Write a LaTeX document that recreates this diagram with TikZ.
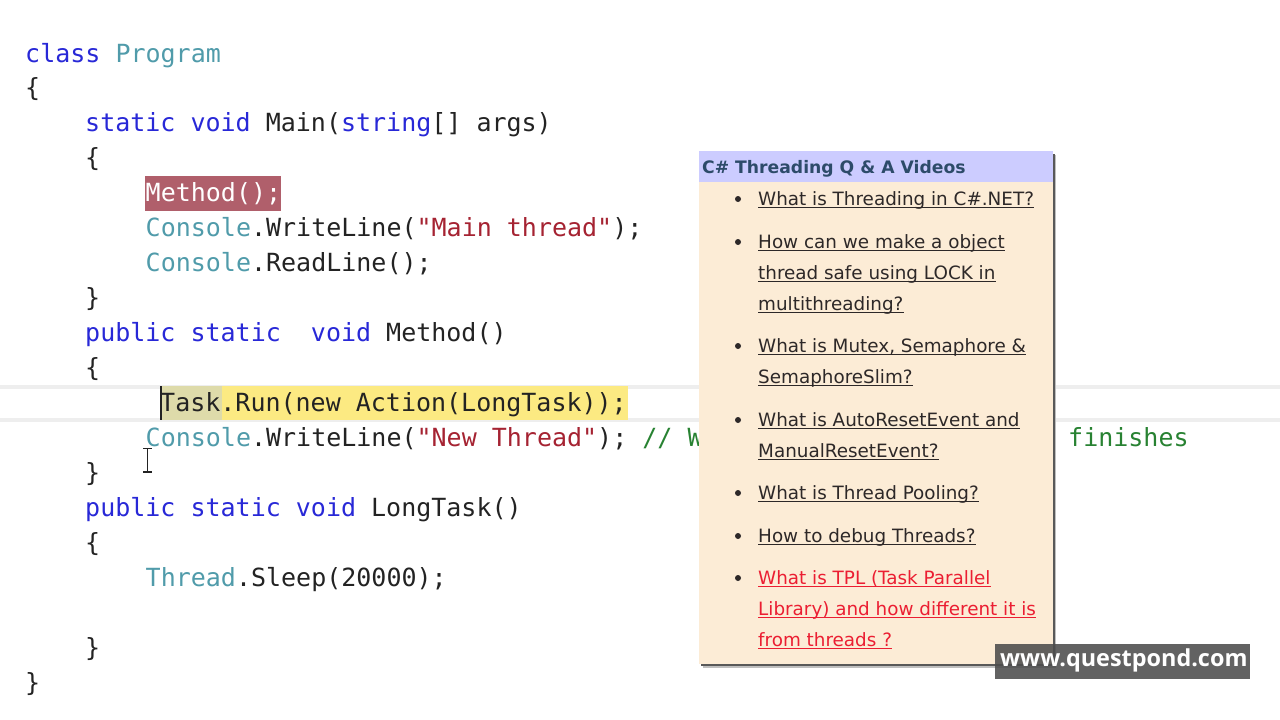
\documentclass[tikz,border=0pt]{standalone}
\usepackage{fontspec}
\usepackage{xcolor}
\setmainfont{DejaVu Sans}
\newfontfamily\codefont{DejaVu Sans Mono}
\newfontfamily\markfont{Open Sans}
\definecolor{KeyBlue}{RGB}{40, 40, 215}
\definecolor{TypeTeal}{RGB}{80, 155, 170}
\definecolor{StrRed}{RGB}{165, 35, 50}
\definecolor{CmtGreen}{RGB}{40, 130, 50}
\definecolor{CodeInk}{RGB}{35, 35, 35}
\definecolor{HeadLilac}{RGB}{204, 204, 255}
\definecolor{HeadInk}{RGB}{45, 75, 105}
\definecolor{PopCream}{RGB}{252, 236, 214}
\definecolor{LinkInk}{RGB}{45, 40, 40}
\definecolor{LinkRed}{RGB}{235, 30, 50}
\definecolor{MarkRose}{RGB}{176, 95, 107}
\definecolor{MarkYellow}{RGB}{252, 234, 130}
\definecolor{MarkOlive}{RGB}{222, 219, 170}
\definecolor{BandGray}{RGB}{238, 238, 238}
\newcommand{\kw}[1]{\textcolor{KeyBlue}{#1}}
\newcommand{\ty}[1]{\textcolor{TypeTeal}{#1}}
\newcommand{\st}[1]{\textcolor{StrRed}{#1}}
\usetikzlibrary{positioning}
\tikzset{
	codeline/.style={anchor=base west, inner sep=0pt, text=CodeInk, font=\codefont\fontsize{25}{25}\selectfont},
	popline/.style={anchor=base west, inner sep=0pt, text=LinkInk, font=\fontsize{18.35}{18.35}\selectfont},
	redline/.style={popline, text=LinkRed},
	popdot/.style={circle, fill=LinkInk, inner sep=0pt, minimum size=6pt}
}
\begin{document}
\begin{tikzpicture}[x=1pt, y=-1pt]
	\useasboundingbox (0,0) rectangle (1280,720);
	\pgfmathsetmacro{\colA}{25}
	\pgfmathsetmacro{\colB}{85}
	\pgfmathsetmacro{\colC}{145.5}
	\pgfmathsetmacro{\pitch}{34.97}
	% Current line marks
	\fill[BandGray] (0,385) rectangle (1280,389);
	\fill[BandGray] (0,418) rectangle (1280,422);
	\fill[MarkYellow] (222,386) rectangle (628,420);
	\fill[MarkOlive] (160,386) rectangle (222,420);
	\fill[MarkRose] (145,176) rectangle (281,211);
	% Code
	\foreach \n/\x/\t in {
		0/\colA/{\kw{class} \ty{Program}},
		1/\colA/{\{},
		2/\colB/{\kw{static} \kw{void} Main(\kw{string}[] args)},
		3/\colB/{\{},
		4/\colC/{\textcolor{white}{Method();}},
		5/\colC/{\ty{Console}.WriteLine(\st{"Main thread"});},
		6/\colC/{\ty{Console}.ReadLine();},
		7/\colB/{\}},
		8/\colB/{\kw{public} \kw{static}\ \ \kw{void} Method()},
		9/\colB/{\{},
		11/\colC/{\ty{Console}.WriteLine(\st{"New Thread"}); \textcolor{CmtGreen}{// W}},
		12/\colB/{\}},
		13/\colB/{\kw{public} \kw{static} \kw{void} LongTask()},
		14/\colB/{\{},
		15/\colC/{\ty{Thread}.Sleep(20000);},
		17/\colB/{\}},
		18/\colA/{\}}
	}
	{
		\node[codeline] (line\n) at (\x, 62+\n*\pitch) {\t};
	}
	\node[codeline] (taskline) at (160, 62+10*\pitch) {Task.Run(new Action(LongTask));};
	\node[codeline, text=CmtGreen] (finishes) at (1068, 62+11*\pitch) {finishes};
	% Caret and mouse cursor
	\draw[CodeInk, line width=1.6pt] (161,386) -- (161,420);
	\draw[CodeInk, line width=1.1pt] (143,448.5) -- (152,448.5) (147.5,448.5) -- (147.5,472) (143,472) -- (152,472);
	% Popup
	\fill[black!25] (703,155) rectangle (1056,668);
	\fill[black!65] (701,154) rectangle (1055,666);
	\fill[PopCream] (699,151) rectangle (1053,664);
	\fill[HeadLilac] (699,151) rectangle (1053,182);
	\node[popline, text=HeadInk, font=\bfseries\fontsize{17.2}{17.2}\selectfont] (pophead) at (702,173) {C\# Threading Q \& A Videos};
	\foreach \n/\y/\t in {
		a/205/{What is Threading in C\#.NET?},
		b/248/{How can we make a object},
		c/279/{thread safe using LOCK in},
		d/310/{multithreading?},
		e/352/{What is Mutex, Semaphore \&},
		f/383/{SemaphoreSlim?},
		g/426/{What is AutoResetEvent and},
		h/457/{ManualResetEvent?},
		i/499/{What is Thread Pooling?},
		j/542/{How to debug Threads?}
	}
	{
		\node[popline] (link\n) at (758,\y) {\t};
		\draw[LinkInk, line width=1.3pt] ([yshift=-2.4pt]link\n.base west) -- ([yshift=-2.4pt]link\n.base east);
	}
	\foreach \n/\y/\t in {
		k/584/{What is TPL (Task Parallel},
		l/615/{Library) and how different it is},
		m/646/{from threads ?}
	}
	{
		\node[redline] (link\n) at (758,\y) {\t};
		\draw[LinkRed, line width=1.3pt] ([yshift=-2.4pt]link\n.base west) -- ([yshift=-2.4pt]link\n.base east);
	}
	\foreach \y in {199,242,346,420,493,536,578}
	{
		\node[popdot] at (738,\y) {};
	}
	% Watermark
	\fill[black!70, opacity=0.88] (995,644) rectangle (1250,679);
	\node[anchor=base west, inner sep=0pt, text=white, font=\markfont\bfseries\fontsize{23.4}{23.4}\selectfont] (website) at (1000,666.5) {www.questpond.com};
\end{tikzpicture}
\end{document}
